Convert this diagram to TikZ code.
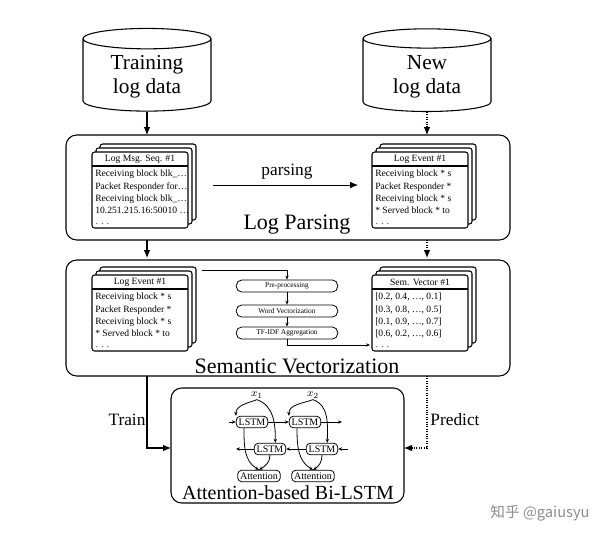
\documentclass[tikz,border=0pt]{standalone}
\usepackage{fontspec}
\setmainfont{Liberation Serif}
\newfontfamily\cjk{Noto Sans CJK SC}
\usetikzlibrary{shapes.geometric,arrows.meta}
\begin{document}
\begin{tikzpicture}[x=0.75pt,y=-0.75pt,
  stage/.style={draw,thick,rounded corners=8pt},
  card/.style={draw,thick,fill=white,rounded corners=2pt},
  arr/.style={-{Latex[length=6pt,width=5pt]},thick},
  darr/.style={-{Latex[length=6pt,width=5pt]},thick,densely dotted},
  sarr/.style={-{Stealth[length=3pt,width=2.5pt]},semithick},
  step box/.style={draw,semithick,rounded corners=4pt,minimum width=76pt,minimum height=9pt,inner sep=0pt,font=\fontsize{5.5}{6}\selectfont},
  lstm/.style={draw,semithick,rounded corners=3pt,inner sep=1.8pt,font=\fontsize{7.5}{8}\selectfont},
  db/.style={cylinder,shape border rotate=90,draw,thick,aspect=0.25,minimum width=96pt,minimum height=62pt,align=center,font=\fontsize{16}{18}\selectfont},
  big/.style={font=\fontsize{16.5}{18}\selectfont},
  body/.style={font=\fontsize{7.2}{9.2}\selectfont,align=left,anchor=north west,inner sep=0pt}]
\useasboundingbox (0,0) rectangle (600,537);
% databases
\node[db] (train) at (147,77) {Training\\log data};
\node[db] (new) at (427,77) {New\\log data};
% stages
\draw[stage] (66,135) rectangle (510,240);
\node[big] (lp) at (297,225) {Log Parsing};
\draw[stage] (66,260) rectangle (510,376);
\node[big] (sv) at (297,366) {Semantic Vectorization};
\draw[stage] (171,388) rectangle (404,503);
\node[font=\fontsize{15}{17}\selectfont] (bl) at (288,493) {Attention-based Bi-LSTM};
% cards
\newcommand{\stackcard}[5]{%
  \foreach \o in {8,4,0}{\draw[card] (#1+\o,#2-\o) rectangle (#1+96+\o,#2+76-\o);}
  \draw[thick] (#1,#2+14) -- (#1+96,#2+14);
  \node[font=\fontsize{7.2}{8}\selectfont] (#3h) at (#1+48,#2+7) {#4};
  \node[body] (#3b) at (#1+3,#2+18) {#5};}
\stackcard{92}{152}{A}{Log Msg. Seq. \#1}{Receiving block blk\_\dots\\Packet Responder for\dots\\Receiving block blk\_\dots\\10.251.215.16:50010 \dots\\$\cdot\cdot\cdot$}
\stackcard{372}{152}{B}{Log Event \#1}{Receiving block * s\\Packet Responder *\\Receiving block * s\\* Served block * to\\$\cdot\cdot\cdot$}
\stackcard{92}{275}{C}{Log Event \#1}{Receiving block * s\\Packet Responder *\\Receiving block * s\\* Served block * to\\$\cdot\cdot\cdot$}
\stackcard{372}{275}{D}{Sem. Vector \#1}{[0.2, 0.4, \dots, 0.1]\\{}[0.3, 0.8, \dots, 0.5]\\{}[0.1, 0.9, \dots, 0.7]\\{}[0.6, 0.2, \dots, 0.6]\\$\cdot\cdot\cdot$}
% parsing arrow
\coordinate (p1) at (213,185); \coordinate (p2) at (358,185);
\draw[arr,semithick] (p1) -- (p2);
\node[font=\fontsize{13}{15}\selectfont] (pl) at (287,172) {parsing};
% vertical arrows
\coordinate (t1) at (147,240); \coordinate (t2) at (147,258);
\coordinate (n1) at (427,240); \coordinate (n2) at (427,258);
\draw[arr] (train.south) -- (147,135);
\draw[darr] (new.south) -- (427,135);
\draw[arr] (t1) -- (t2);
\draw[darr] (n1) -- (n2);
% vectorization steps
\node[step box] (pre) at (287,286) {Pre-processing};
\node[step box] (wv) at (287,311) {Word Vectorization};
\node[step box] (tf) at (287,333) {TF-IDF Aggregation};
\coordinate (c1) at (202,270);
\draw[sarr] (c1) -| (pre.north);
\draw[sarr] (pre) -- (wv);
\draw[sarr] (wv) -- (tf);
\coordinate (c2) at (370,345);
\draw[sarr] (tf.south) |- (c2);
% train / predict
\coordinate (s1) at (147,376); \coordinate (s2) at (171,448);
\coordinate (q1) at (427,376); \coordinate (q2) at (404,448);
\draw[arr] (s1) |- (s2);
\draw[darr] (q1) |- (q2);
\node[font=\fontsize{13}{15}\selectfont] (trl) at (127,420) {Train};
\node[font=\fontsize{13}{15}\selectfont] (prl) at (455,420) {Predict};
% bi-lstm
\node[lstm] (l1) at (252,422) {LSTM};
\node[lstm] (l2) at (305,422) {LSTM};
\node[lstm] (l3) at (270,449) {LSTM};
\node[lstm] (l4) at (322,449) {LSTM};
\node[lstm] (a1) at (259,476) {Attention};
\node[lstm] (a2) at (313,476) {Attention};
\node[font=\fontsize{8}{9}\selectfont,inner sep=1pt] (x1) at (257,395) {$x_1$};
\node[font=\fontsize{8}{9}\selectfont,inner sep=1pt] (x2) at (313,395) {$x_2$};
\coordinate (e1) at (229,422); \coordinate (e2) at (342,422);
\coordinate (e3) at (348,449); \coordinate (e4) at (236,449);
\draw[sarr] (e1) -- (l1);
\draw[sarr] (l1) -- (l2);
\draw[sarr] (l2) -- (e2);
\draw[sarr] (e3) -- (l4);
\draw[sarr] (l4) -- (l3);
\draw[sarr] (l3) -- (e4);
\foreach \x/\a/\b/\c in {x1/l1/l3/a1,x2/l2/l4/a2}{
  \draw[sarr] (\x.south) to[out=200,in=90] (\a.north west);
  \draw[sarr] (\x.south) to[out=-20,in=90] ([xshift=4pt]\b.north);
  \draw[sarr] ([xshift=-6pt]\a.south) to[out=-90,in=150] (\c.north);
  \draw[sarr] (\b.south) to[out=-90,in=30] (\c.north);
}
% watermark
\node[font=\cjk\fontsize{11}{13}\selectfont,text=black!45] (wm) at (540,513) {知乎 @gaiusyu};
\end{tikzpicture}
\end{document}
